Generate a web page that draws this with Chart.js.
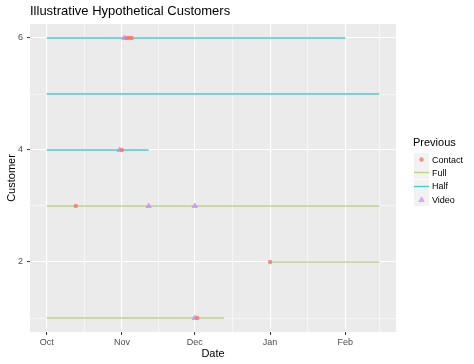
<!DOCTYPE html>
<html>
<head>
<meta charset="utf-8">
<title>Illustrative Hypothetical Customers</title>
<script src="https://cdn.jsdelivr.net/npm/chart.js@4.4.1/dist/chart.umd.min.js"></script>
<style>
  html, body { margin: 0; padding: 0; background: #fff; }
  #wrap { position: relative; width: 474px; height: 364px; font-family: "Liberation Sans", Arial, sans-serif; }
  #legend { position: absolute; left: 413px; top: 136px; }
  #legend .leg-title { font-size: 11px; line-height: 13px; height: 13px; color: #000; margin-bottom: 4px; }
  #legend .leg-row { height: 13.3px; display: flex; align-items: center; }
  #legend .leg-key { width: 15px; height: 13px; background: #f2f2f2; margin-left: 1px; margin-right: 3px; }
  #legend .leg-key svg { display: block; }
  #legend .leg-text { font-size: 9px; color: #000; }
</style>
</head>
<body>
<div id="wrap">
  <canvas id="chart" width="474" height="364"></canvas>
  <div id="legend">
    <div class="leg-title">Previous</div>
    <div id="legend-rows"></div>
  </div>
</div>
<script>
// dates are turned into days since the first tick
const tickDates = ['2016-10-01', '2016-11-01', '2016-12-01', '2017-01-01', '2017-02-01'];
const tickLabels = ['Oct', 'Nov', 'Dec', 'Jan', 'Feb'];
const customerTicks = [2, 4, 6];

// one span per customer
const spanCustomer = [1, 2, 3, 4, 5, 6];
const spanStart = ['2016-10-01', '2017-01-01', '2016-10-01', '2016-10-01', '2016-10-01', '2016-10-01'];
const spanEnd = ['2016-12-13', '2017-02-15', '2017-02-15', '2016-11-12', '2017-02-15', '2017-02-01'];
const spanPlan = ['Full', 'Full', 'Full', 'Half', 'Half', 'Half'];

const contactCustomer = [1, 2, 3, 4, 6, 6, 6];
const contactDate = ['2016-12-02', '2017-01-01', '2016-10-13', '2016-11-01', '2016-11-03', '2016-11-04', '2016-11-05'];

const videoCustomer = [1, 3, 3, 4, 6];
const videoDate = ['2016-12-01', '2016-11-12', '2016-12-01', '2016-10-31', '2016-11-02'];

const previousLabels = ['Contact', 'Full', 'Half', 'Video'];

const colors = {
    Contact: 'rgba(248,118,109,0.8)',
    Full: 'rgba(124,174,0,0.45)',
    Half: 'rgba(0,185,195,0.7)',
    Video: 'rgba(199,124,255,0.55)',
    VideoEdge: 'rgba(199,124,255,0.75)'
};

const DAY = 86400000;
const origin = Date.parse(tickDates[0]);
const toDay = (s) => (Date.parse(s) - origin) / DAY;

const majorDays = tickDates.map(toDay);

// minor grid lines sit half way between month ticks
function minorDays() {
    const last = new Date(Date.parse(tickDates[tickDates.length - 1]));
    const next = Date.UTC(last.getUTCFullYear(), last.getUTCMonth() + 1, 1);
    const all = majorDays.concat([(next - origin) / DAY]);
    const out = [];
    for (let i = 0; i < all.length - 1; i++) out.push((all[i] + all[i + 1]) / 2);
    return out;
}

function xRange() {
    const days = spanStart.concat(spanEnd).map(toDay);
    const lo = Math.min(...days);
    const hi = Math.max(...days);
    const pad = (hi - lo) * 0.05;
    return { min: lo - pad, max: hi + pad };
}

function buildDatasets() {
    const sets = [];
    sets.push({
        label: 'Contact',
        data: contactDate.map((d, i) => ({ x: toDay(d), y: contactCustomer[i] })),
        pointStyle: 'circle',
        pointRadius: 2.2,
        backgroundColor: colors.Contact,
        borderWidth: 0,
        order: 0
    });
    sets.push({
        label: 'Video',
        data: videoDate.map((d, i) => ({ x: toDay(d), y: videoCustomer[i] })),
        pointStyle: 'triangle',
        pointRadius: 3,
        backgroundColor: colors.Video,
        borderColor: colors.VideoEdge,
        borderWidth: 0.8,
        order: 0
    });
    spanCustomer.forEach((c, i) => {
        sets.push({
            label: spanPlan[i],
            data: [{ x: toDay(spanStart[i]), y: c }, { x: toDay(spanEnd[i]), y: c }],
            showLine: true,
            borderColor: colors[spanPlan[i]],
            borderWidth: 1.6,
            pointRadius: 0,
            fill: false,
            order: 1
        });
    });
    return sets;
}

// grey panel like ggplot
const panelBackground = {
    id: 'panelBackground',
    beforeDraw(chart) {
        const { ctx, chartArea } = chart;
        ctx.save();
        ctx.fillStyle = '#ebebeb';
        ctx.fillRect(chartArea.left, chartArea.top, chartArea.right - chartArea.left, chartArea.bottom - chartArea.top);
        ctx.restore();
    }
};

function buildLegend() {
    const rows = document.getElementById('legend-rows');
    rows.innerHTML = previousLabels.map(name => {
        let mark = '';
        if (name === 'Contact') {
            mark = `<circle cx="7.5" cy="6.5" r="2.2" fill="${colors.Contact}"/>`;
        } else if (name === 'Video') {
            mark = `<polygon points="7.5,3.8 10.3,8.6 4.7,8.6" fill="${colors.Video}" stroke="${colors.VideoEdge}" stroke-width="0.6"/>`;
        } else {
            mark = `<line x1="0" y1="6.5" x2="15" y2="6.5" stroke="${colors[name]}" stroke-width="1.3"/>`;
        }
        return `<div class="leg-row"><div class="leg-key"><svg width="15" height="13">${mark}</svg></div><span class="leg-text">${name}</span></div>`;
    }).join('');
}

const fontFamily = '"Liberation Sans", Arial, sans-serif';
const range = xRange();
const minors = minorDays();

new Chart(document.getElementById('chart'), {
    type: 'scatter',
    data: { datasets: buildDatasets() },
    plugins: [panelBackground],
    options: {
        responsive: false,
        devicePixelRatio: 1,
        animation: false,
        events: [],
        layout: { padding: { left: 0, right: 78, top: 0, bottom: 0 } },
        plugins: {
            legend: { display: false },
            tooltip: { enabled: false },
            title: {
                display: true,
                text: 'Illustrative Hypothetical Customers',
                align: 'start',
                fullSize: false,
                color: '#000',
                font: { family: fontFamily, size: 13, weight: 'normal' },
                padding: { top: 4, bottom: 4.4 }
            }
        },
        scales: {
            x: {
                type: 'linear',
                min: range.min,
                max: range.max,
                afterBuildTicks: (scale) => {
                    const vals = majorDays.concat(minors.filter(v => v > range.min && v < range.max));
                    vals.sort((a, b) => a - b);
                    scale.ticks = vals.map(v => ({ value: v }));
                },
                afterFit: (scale) => { scale.height = 32; },
                border: { display: false },
                grid: {
                    color: '#ffffff',
                    lineWidth: (ctx) => majorDays.includes(ctx.tick.value) ? 1.1 : 0.55,
                    tickLength: 3,
                    tickWidth: 1,
                    tickColor: (ctx) => majorDays.includes(ctx.tick.value) ? '#333333' : 'rgba(0,0,0,0)'
                },
                ticks: {
                    autoSkip: false,
                    maxRotation: 0,
                    padding: 2,
                    color: '#4d4d4d',
                    font: { family: fontFamily, size: 9 },
                    callback: (value) => {
                        const i = majorDays.indexOf(value);
                        return i >= 0 ? tickLabels[i] : '';
                    }
                },
                title: {
                    display: true,
                    text: 'Date',
                    color: '#000',
                    font: { family: fontFamily, size: 11 },
                    padding: { top: 0, bottom: 3 }
                }
            },
            y: {
                type: 'linear',
                min: 0.75,
                max: 6.25,
                afterBuildTicks: (scale) => {
                    scale.ticks = [1, 2, 3, 4, 5, 6].map(v => ({ value: v }));
                },
                afterFit: (scale) => { scale.width = 30; },
                border: { display: false },
                grid: {
                    color: '#ffffff',
                    lineWidth: (ctx) => customerTicks.includes(ctx.tick.value) ? 1.1 : 0.55,
                    tickLength: 3,
                    tickWidth: 1,
                    tickColor: (ctx) => customerTicks.includes(ctx.tick.value) ? '#333333' : 'rgba(0,0,0,0)'
                },
                ticks: {
                    autoSkip: false,
                    padding: 4,
                    color: '#4d4d4d',
                    font: { family: fontFamily, size: 9 },
                    callback: (value) => customerTicks.includes(value) ? String(value) : ''
                },
                title: {
                    display: true,
                    text: 'Customer',
                    color: '#000',
                    font: { family: fontFamily, size: 11 },
                    padding: { top: 5, bottom: 0 }
                }
            }
        }
    }
});

buildLegend();
</script>
</body>
</html>
